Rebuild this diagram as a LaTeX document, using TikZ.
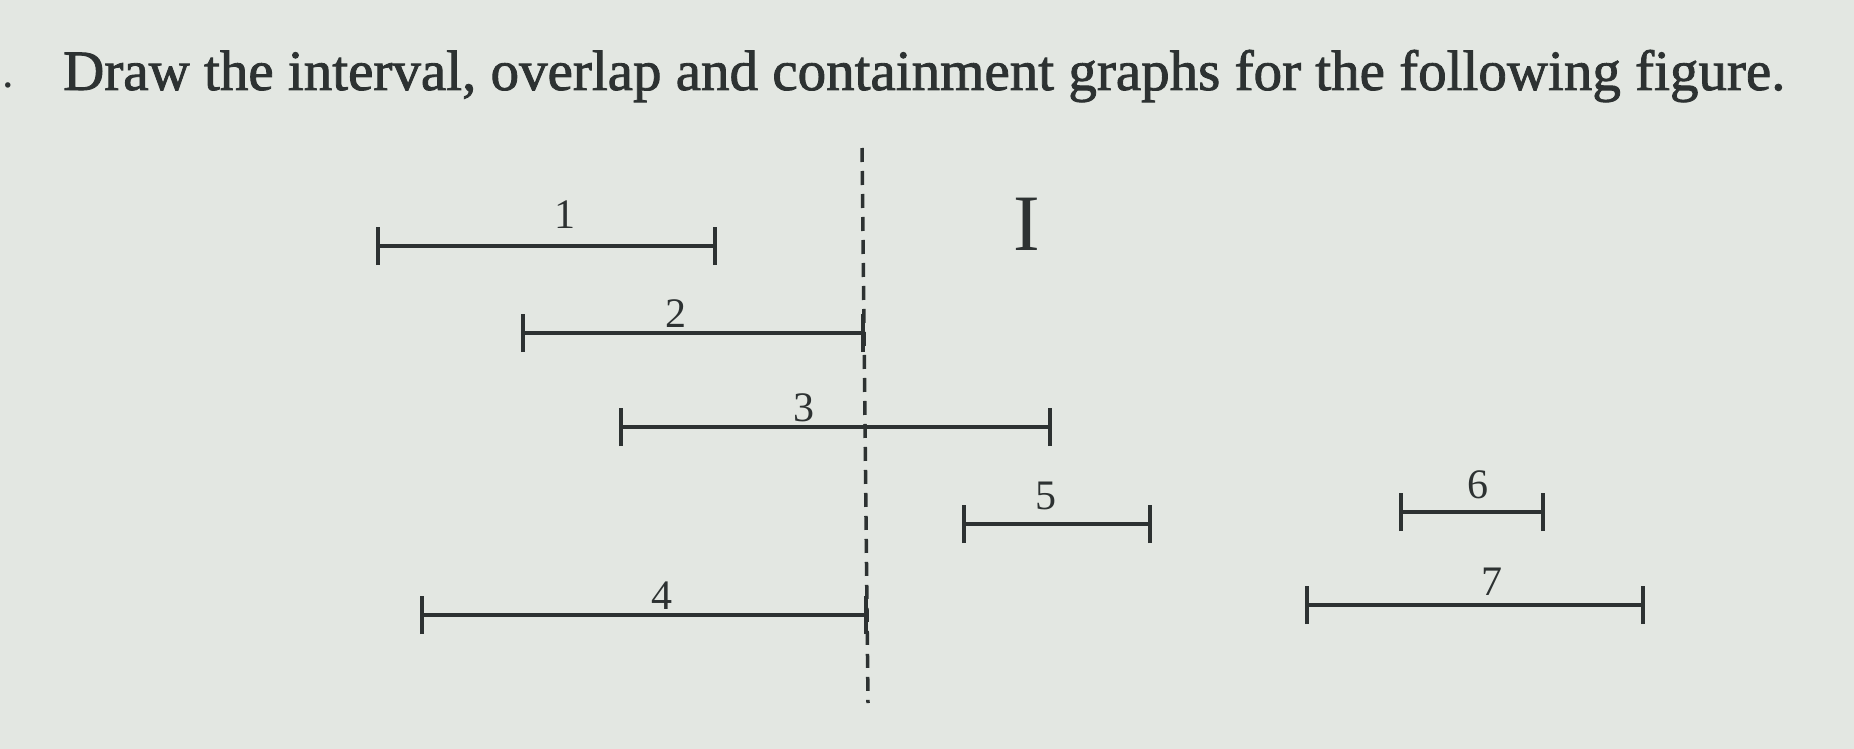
\documentclass[tikz,border=0pt]{standalone}
\usepackage{fontspec}
\setmainfont{Liberation Serif}
\newfontfamily\titlefont[FakeBold=1.5]{Liberation Serif}
\definecolor{paper}{RGB}{227,231,226}
\definecolor{ink}{RGB}{45,50,50}
\begin{document}
\begin{tikzpicture}[x=1pt,y=-1pt,
  seg/.style={draw=ink,line width=3.5pt},
  tick/.style={draw=ink,line width=3.5pt},
  lbl/.style={text=ink,font=\fontsize{42}{42}\selectfont,inner sep=0pt,anchor=base}]
\fill[paper] (0,0) rectangle (1854,749);
\useasboundingbox (0,0) rectangle (1854,749);
\node[text=ink,font=\titlefont\fontsize{57}{57}\selectfont,anchor=base west,inner sep=0pt] (title) at (63,90)
  {Draw the interval, overlap and containment graphs for the following figure.};
\node[text=ink,font=\fontsize{46}{46}\selectfont,anchor=base,inner sep=0pt] (num) at (8,88) {.};
% dashed reference line
\coordinate (dtop) at (862,148);
\coordinate (dbot) at (868,703);
\draw[ink,line width=3.5pt,dash pattern=on 14pt off 9pt] (dtop) -- (dbot);
% label I
\node[text=ink,font=\fontsize{80}{80}\selectfont,anchor=base,inner sep=0pt] (I) at (1027,250) {I};
% intervals
\foreach \n/\l/\r/\y/\lx/\dy in {1/378/715/246/565/18, 2/523/863/333/676/6, 3/621/1050/427/804/6,
  5/964/1150/524/1046/15, 4/422/866/615/662/6, 6/1401/1543/512/1478/14, 7/1307/1643/605/1492/10}{
  \coordinate (a\n) at (\l,\y);
  \coordinate (b\n) at (\r,\y);
  \draw[seg] (a\n) -- (b\n);
  \draw[tick] ([yshift=-19pt]a\n) -- ([yshift=19pt]a\n);
  \draw[tick] ([yshift=-19pt]b\n) -- ([yshift=19pt]b\n);
  \node[lbl] (l\n) at (\lx,\y-\dy) {\n};
}
\end{tikzpicture}
\end{document}
